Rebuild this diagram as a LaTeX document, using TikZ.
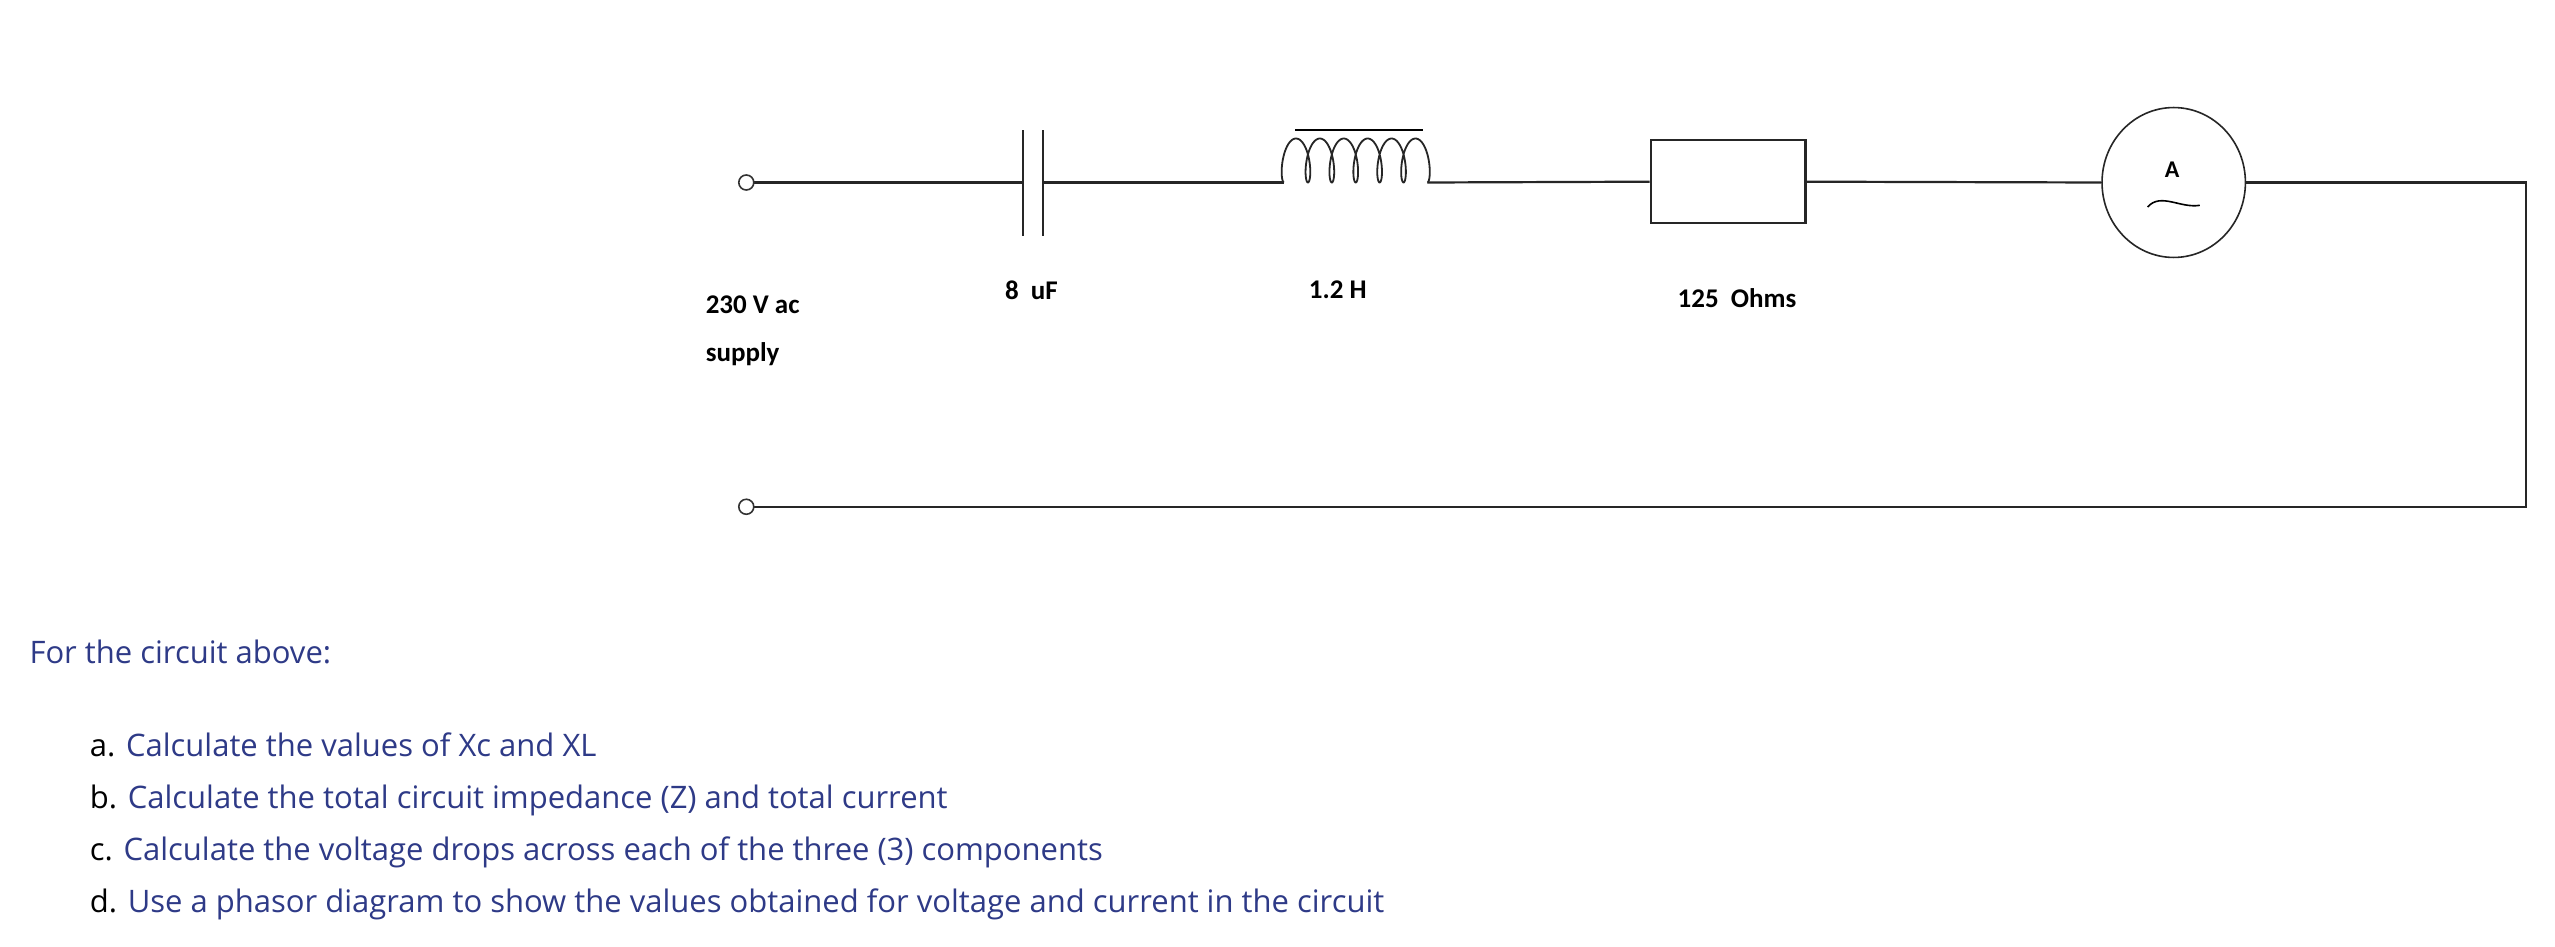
\documentclass[tikz,border=0pt]{standalone}
\usepackage{fontspec}
\usetikzlibrary{shapes.geometric}
\setmainfont{Open Sans}
\newfontfamily\lbl{Carlito}
\definecolor{qblue}{HTML}{2E3A87}
\begin{document}
\begin{tikzpicture}[x=1.6295pt,y=-1.6295pt,
  wire/.style={line width=2.2pt,draw=black!85},
  term/.style={circle,draw=black!80,line width=1.6pt,fill=white,minimum size=15pt,inner sep=0pt},
  clabel/.style={font=\lbl\bfseries\fontsize{27}{34}\selectfont,inner sep=0pt},
  qtext/.style={font=\fontsize{31}{38}\selectfont,text=qblue,anchor=base west,inner sep=0pt}]
\useasboundingbox[fill=white] (0,0) rectangle (1568,581);
\coordinate (cl) at (628,112);
\coordinate (cr) at (640,112);
\coordinate (ls) at (788,112);
\coordinate (le) at (876,112);
\coordinate (c1) at (1550,112);
\coordinate (c2) at (1550,311);
\node[draw=black!85,line width=2.2pt,minimum width=95*1.6295pt,minimum height=51*1.6295pt,inner sep=0pt] (res) at (1060.5,111.5) {};
\node[ellipse,draw=black!85,line width=1.6pt,minimum width=88*1.6295pt,minimum height=92*1.6295pt,inner sep=0pt] (amm) at (1334,112) {};
\node[font=\lbl\bfseries\fontsize{24}{28}\selectfont] (A) at (1333,104) {A};
\draw[line width=1.6pt] (1318,127) .. controls (1326,118) and (1338,128) .. (1350,126);
\draw[wire] (463,112) -- (cl);
\draw[wire] (cl) ++(0,-32) -- ++(0,65);
\draw[wire] (cr) ++(0,-32) -- ++(0,65);
\draw[wire] (cr) -- (ls);
\draw[line width=1.8pt,draw=black!85] plot[domain=0:2160,samples=300,smooth] ({788+\x/2160*88-4.5*sin(\x)},{98.5+13.5*cos(\x)});
\draw[line width=2pt] (795,80) -- (873,80);
\draw[wire] (le) -- (res.west);
\draw[wire] (res.east) -- (amm.west);
\draw[wire] (amm.east) -- (c1) -- (c2) -- (463,311);
\node[term] (t1) at (458,112) {};
\node[term] (t2) at (458,311) {};
\node[clabel] (lc) at (633,178) {8~ uF};
\node[clabel] (ll) at (821,178) {1.2 H};
\node[clabel] (lr) at (1066,183) {125~ Ohms};
\node[clabel,anchor=west,align=left,font=\lbl\bfseries\fontsize{27}{48}\selectfont] (ls1) at (433,203) {230 V ac\\supply};
\node[qtext] (q0) at (18,407) {For the circuit above:};
\node[qtext] (qa) at (55,464) {\textcolor{black}{a.} Calculate the values of Xc and XL};
\node[qtext] (qb) at (55,496) {\textcolor{black}{b.} Calculate the total circuit impedance (Z) and total current};
\node[qtext] (qc) at (55,528) {\textcolor{black}{c.} Calculate the voltage drops across each of the three (3) components};
\node[qtext] (qd) at (55,560) {\textcolor{black}{d.} Use a phasor diagram to show the values obtained for voltage and current in the circuit};
\end{tikzpicture}
\end{document}
